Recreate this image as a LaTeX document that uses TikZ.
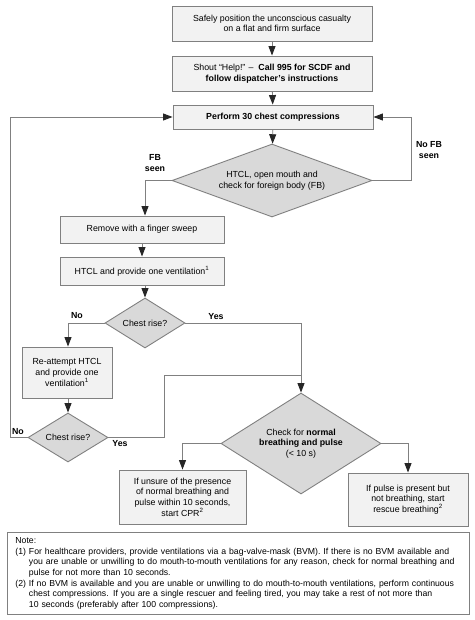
\documentclass[tikz,border=0pt]{standalone}
\usepackage{fontspec}
\setmainfont{Liberation Sans}
\usetikzlibrary{arrows.meta,shapes.geometric}
\definecolor{boxfill}{HTML}{F2F2F2}
\definecolor{diafill}{HTML}{D9D9D9}
\definecolor{edge}{HTML}{808080}
\newcommand\hind{\hphantom{(1) }}
\begin{document}
\begin{tikzpicture}[x=1pt,y=-1pt,
  font=\fontsize{8.8}{10.6}\selectfont,
  stepbox/.style={draw=edge,fill=boxfill,line width=0.9pt,rectangle,align=center,inner sep=2pt},
  decision/.style={draw=edge,fill=diafill,line width=0.9pt,diamond,align=center,inner sep=0pt},
  conn/.style={draw=edge,line width=0.9pt,-{Triangle[width=7pt,length=9.5pt,color=black!85,fill=black!85]}},
  plainconn/.style={draw=edge,line width=0.9pt},
  lbl/.style={font=\fontsize{8.8}{10.6}\selectfont\bfseries,align=center}]
\useasboundingbox (0,0) rectangle (474,620);
\node[stepbox,minimum width=200pt,minimum height=35pt] (b1) at (272,23.5) {Safely position the unconscious casualty\\on a flat and firm surface};
\node[stepbox,minimum width=200pt,minimum height=35pt] (b2) at (272,73.5) {Shout “Help!” --\ \ \textbf{Call 995 for SCDF and}\\\textbf{follow dispatcher’s instructions}};
\node[stepbox,minimum width=200pt,minimum height=24pt,font=\fontsize{8.8}{10.6}\selectfont\bfseries] (b3) at (273,117) {Perform 30 chest compressions};
\node[decision,aspect=2.74,minimum width=200pt,minimum height=73pt] (d1) at (272,180.5) {HTCL, open mouth and\\check for foreign body (FB)};
\node[stepbox,minimum width=164pt,minimum height=27pt] (b4) at (142,229.5) {Remove with a finger sweep};
\node[stepbox,minimum width=164pt,minimum height=28pt] (b5) at (142,271) {HTCL and provide one ventilation\textsuperscript{1}};
\node[decision,aspect=1.6,minimum width=80pt,minimum height=50pt] (d2) at (145,323) {Chest rise?};
\node[stepbox,minimum width=90pt,minimum height=51pt] (b6) at (67,372.5) {Re-attempt HTCL\\and provide one\\ventilation\textsuperscript{1}};
\node[decision,aspect=1.6,minimum width=80pt,minimum height=49pt] (d4) at (68,437.5) {Chest rise?};
\node[decision,aspect=1.58,minimum width=160pt,minimum height=101pt] (d3) at (301,443.5) {Check for \textbf{normal}\\\textbf{breathing and pulse}\\(< 10 s)};
\node[stepbox,minimum width=127pt,minimum height=54pt] (b7) at (182.5,497) {If unsure of the presence\\of normal breathing and\\pulse within 10 seconds,\\start CPR\textsuperscript{2}};
\node[stepbox,minimum width=120pt,minimum height=53pt] (b8) at (408,499.5) {If pulse is present but\\not breathing, start\\rescue breathing\textsuperscript{2}};
\node[draw=edge,fill=white,line width=0.9pt,rectangle,minimum width=460pt,minimum height=82pt,align=left,inner xsep=8pt,inner ysep=3pt,font=\fontsize{8.7}{10.7}\selectfont,anchor=north west,text width=446pt] (note) at (7,532) {Note:\\
(1) For healthcare providers, provide ventilations via a bag-valve-mask (BVM). If there is no BVM available and\\
\hind you are unable or unwilling to do mouth-to-mouth ventilations for any reason, check for normal breathing and\\
\hind pulse for not more than 10 seconds.\\
(2) If no BVM is available and you are unable or unwilling to do mouth-to-mouth ventilations, perform continuous\\
\hind chest compressions. If you are a single rescuer and feeling tired, you may take a rest of not more than\\
\hind 10 seconds (preferably after 100 compressions).};
% connectors
\draw[conn] (b1) -- (b2);
\draw[conn] (b2) -- (b3);
\draw[conn] (b3) -- (d1);
\draw[conn] (d1.west) -| (b4.north -| 145,0);
\draw[conn] (d1.east) -- (411,180.5) |- (b3.east);
\draw[conn] (b4) -- (b5);
\draw[conn] (b5.south -| d2.north) -- (d2.north);
\draw[conn] (d2.west) -| (b6.north -| 68,0);
\draw[conn] (d2.east) -| (d3.north);
\draw[conn] (b6.south -| d4.north) -- (d4.north);
\draw[plainconn] (d4.east) -- (164,437.5) -- (164,375) -- (301,375);
\draw[conn] (d4.west) -- (10,437.5) |- (b3.west);
\draw[conn] (d3.west) -| (b7.north);
\draw[conn] (d3.east) -| (b8.north);
% labels
\node[lbl] (lfb) at (155,163) {FB\\seen};
\node[lbl] (lnofb) at (429,150) {No FB\\seen};
\node[lbl] (lno1) at (77,316) {No};
\node[lbl] (lyes1) at (216,316.5) {Yes};
\node[lbl] (lno2) at (18,432) {No};
\node[lbl] (lyes2) at (120,444) {Yes};
\end{tikzpicture}
\end{document}
